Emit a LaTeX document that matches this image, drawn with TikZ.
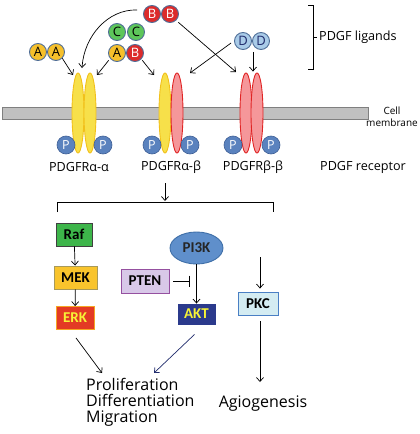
\documentclass[tikz,border=0pt]{standalone}
\usepackage{fontspec}
\setmainfont{Open Sans}
\newfontfamily\boxfont{Carlito}
\usetikzlibrary{arrows.meta,shapes.geometric}
\definecolor{ligbd}{HTML}{4F6E98}
\definecolor{ligA}{HTML}{F6C02B}
\definecolor{ligB}{HTML}{DC2B2B}
\definecolor{ligC}{HTML}{5DC65A}
\definecolor{ligD}{HTML}{A9CBE8}
\definecolor{memfill}{HTML}{C0C0C0}
\definecolor{membd}{HTML}{7F7F7F}
\definecolor{yelfill}{HTML}{F7E04A}
\definecolor{yelbd}{HTML}{F2C01A}
\definecolor{redfill}{HTML}{F5979A}
\definecolor{redbd}{HTML}{E02424}
\definecolor{pfill}{HTML}{5A82BE}
\definecolor{pbd}{HTML}{3E5F95}
\definecolor{raffill}{HTML}{3DB54A}
\definecolor{mekfill}{HTML}{F9C42C}
\definecolor{mekbd}{HTML}{A89A5A}
\definecolor{erkfill}{HTML}{E33A24}
\definecolor{erkbd}{HTML}{F5A623}
\definecolor{yeltext}{HTML}{F7F336}
\definecolor{pifill}{HTML}{5F8FCB}
\definecolor{pibd}{HTML}{3F6FA8}
\definecolor{ptenfill}{HTML}{D8C8E8}
\definecolor{ptenbd}{HTML}{9550A0}
\definecolor{aktfill}{HTML}{2B3A8C}
\definecolor{pkcfill}{HTML}{D4ECF2}
\definecolor{pkcbd}{HTML}{4A7FC4}
\definecolor{navy}{HTML}{1F2A6B}
\begin{document}
\begin{tikzpicture}[x=1pt,y=-1pt,
  lig/.style={circle, draw=ligbd, line width=0.9pt, minimum size=17pt, inner sep=0pt, font=\fontsize{13}{13}\selectfont},
  pc/.style={circle, fill=pfill, draw=pbd, line width=0.6pt, minimum size=18pt, inner sep=0pt, text=white, font=\fontsize{12.5}{12.5}\selectfont},
  rec/.style={ellipse, minimum width=12pt, minimum height=80pt, inner sep=0pt, line width=0.9pt},
  yrec/.style={rec, fill=yelfill, draw=yelbd},
  rrec/.style={rec, fill=redfill, draw=redbd},
  arr/.style={-{Straight Barb[length=4pt,width=7pt]}, line width=0.7pt},
  bx/.style={draw, line width=0.9pt, inner sep=0pt, minimum height=23pt, font=\boxfont\bfseries\fontsize{15}{15}\selectfont},
  lab/.style={font=\fontsize{12.6}{12.6}\selectfont, inner sep=0pt},
  big/.style={font=\fontsize{16}{16}\selectfont, inner sep=0pt}
]
\useasboundingbox (0,0) rectangle (420,434);
% membrane
\node[draw=membd, fill=memfill, line width=0.8pt, minimum width=366pt, minimum height=12pt, inner sep=0pt] (mem) at (185,113) {};
\node[align=center, font=\fontsize{10}{12}\selectfont, inner sep=0pt] (cm) at (392,117) {Cell\\membrane};
% receptors
\node[yrec] (r1) at (78,113) {};
\node[yrec] (r2) at (90,113) {};
\node[yrec] (r3) at (165,113) {};
\node[rrec] (r4) at (177,113) {};
\node[rrec] (r5) at (246,113) {};
\node[rrec] (r6) at (257,113) {};
% P circles
\node[pc] (p1) at (66,145) {P};
\node[pc] (p2) at (103,145) {P};
\node[pc] (p3) at (152,145) {P};
\node[pc] (p4) at (190,145) {P};
\node[pc] (p5) at (233,145) {P};
\node[pc] (p6) at (271,145) {P};
% receptor labels
\node[lab] (l1) at (79,167) {PDGFRα-α};
\node[lab] (l2) at (171,167) {PDGFRα-β};
\node[lab] (l3) at (253,167) {PDGFRβ-β};
\node[lab] (l4) at (363,167) {PDGF receptor};
% ligands
\node[lig, fill=ligA] (a1) at (38,52) {A};
\node[lig, fill=ligA] (a2) at (56,52) {A};
\node[lig, fill=ligC] (c1) at (117,32) {C};
\node[lig, fill=ligC] (c2) at (136,32) {C};
\node[lig, fill=ligA] (ab1) at (117,53) {A};
\node[lig, fill=ligB, text=white] (ab2) at (135,53) {B};
\node[lig, fill=ligB, text=white] (b1) at (152,14) {B};
\node[lig, fill=ligB, text=white] (b2) at (170,14) {B};
\node[lig, fill=ligD, text=navy] (d1) at (243,41) {D};
\node[lig, fill=ligD, text=navy] (d2) at (261,41) {D};
% ligand bracket
\draw[line width=0.8pt] (308,5) -- (313,5) -- (313,69) -- (308,69);
\draw[line width=0.8pt] (313,37) -- (317,37);
\node[lab, anchor=west] (pl) at (319,37) {PDGF ligands};
% ligand arrows
\coordinate (t1) at (73,75);
\coordinate (t2) at (97,75);
\coordinate (t3) at (154,75);
\coordinate (t4) at (190,73);
\coordinate (t5) at (236,72);
\coordinate (t6) at (82,68);
\draw[arr] (a2.south east) -- (t1);
\draw[arr] ([shift={(-2,1)}]ab1.south west) -- (t2);
\draw[arr] ([shift={(1,1)}]ab2.south east) -- (t3);
\draw[arr] ([shift={(-3,2)}]d1.west) -- (t4);
\draw[arr] ([shift={(2,2)}]b2.south east) -- (t5);
\draw[arr] (d2.south -| r6.north) ++(-4,2) -- ([shift={(-4,-1)}]r6.north);
\draw[arr] ([shift={(-6,-4)}]b1.west) .. controls (108,9) and (84,36) .. (t6);
% signalling
\coordinate (s0) at (165,183);
\coordinate (s1) at (165,201);
\draw[arr] (s0) -- (s1);
\draw[line width=0.9pt] (57,212) -- (57,202) -- (273,202) -- (273,212);
\node[bx, fill=raffill, draw=black!75, minimum width=36pt] (raf) at (74,234.5) {Raf};
\node[bx, fill=mekfill, draw=mekbd, minimum width=43pt] (mek) at (75.5,277.5) {MEK};
\node[bx, fill=erkfill, draw=erkbd, text=yeltext, minimum width=38pt] (erk) at (75,318) {ERK};
\node[ellipse, fill=pifill, draw=pibd, line width=0.9pt, minimum width=53pt, minimum height=32pt, inner sep=0pt, font=\boxfont\bfseries\fontsize{15}{15}\selectfont, text=black!85] (pi3k) at (196.5,248) {PI3K};
\node[bx, fill=ptenfill, draw=ptenbd, minimum width=48pt, minimum height=24pt] (pten) at (145,281) {PTEN};
\node[bx, fill=aktfill, draw=aktfill, text=yeltext, minimum width=37pt, minimum height=20pt] (akt) at (196.5,314) {AKT};
\node[bx, fill=pkcfill, draw=pkcbd, minimum width=40pt] (pkc) at (258,303.5) {PKC};
\draw[arr] (raf) -- (mek);
\draw[arr] (mek) -- (erk);
\draw[arr] (pi3k) -- (akt);
\coordinate (tb) at (190,281);
\draw[line width=0.8pt, -{Bar[width=11pt]}] ([xshift=4]pten.east) -- (tb);
\coordinate (k0) at (260,257);
\draw[arr] (k0) -- ([yshift=3]pkc.north -| k0);
% outcomes
\node[big, align=left, anchor=north west, font=\fontsize{16}{16}\selectfont] (prol) at (86,378) {Proliferation\\Differentiation\\Migration};
\node[big] (agio) at (263,404) {Agiogenesis};
\draw[arr] ([shift={(1,8)}]erk.south) -- (102,373);
\draw[arr, draw=navy] ([shift={(-2,10)}]akt.south) -- (154,373);
\draw[arr] ([yshift=-6]pkc.south -| k0) -- ([yshift=14]agio.north -| k0);
\end{tikzpicture}
\end{document}
